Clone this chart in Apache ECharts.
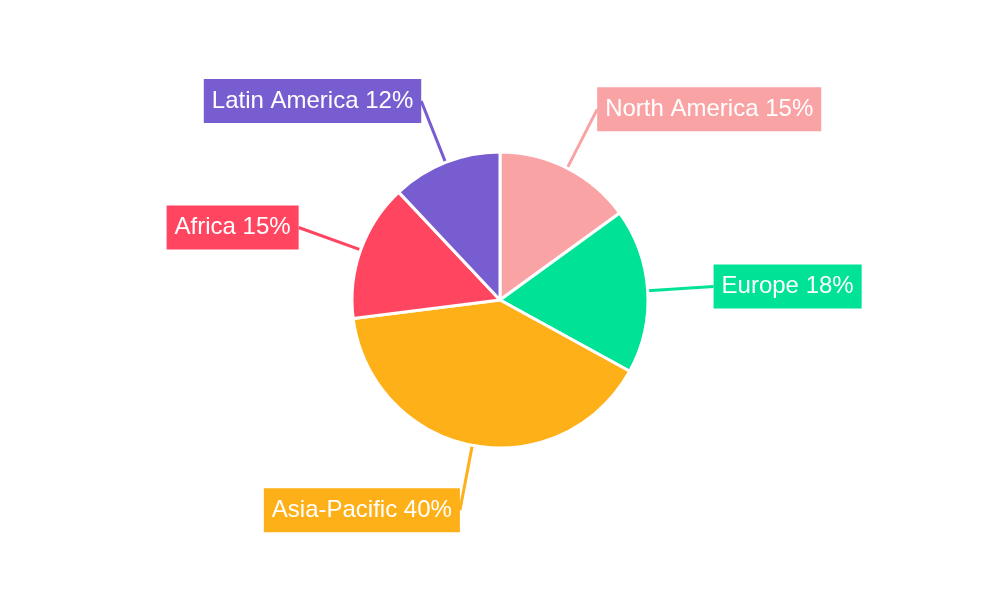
<!DOCTYPE html><html><head><meta charset="utf-8"><script src="https://cdn.jsdelivr.net/npm/echarts@6/dist/echarts.min.js"></script></head><body style="margin:0"><div id="c" style="width:1000px;height:600px"></div><script>
const categories=['North America','Europe','Asia-Pacific','Africa','Latin America'];
const values=[15,18,40,15,12];
const colors=['#F9A3A4','#00E396','#FEB019','#FF4560','#775DD0'];
const chart=echarts.init(document.getElementById('c'));
chart.setOption({series:[{type:'pie',center:['50%','50%'],radius:148,startAngle:90,clockwise:true,
itemStyle:{borderColor:'#fff',borderWidth:3},
label:{formatter:'{b} {d}%',color:'#fff',fontSize:24,fontFamily:'Liberation Sans, Arial',padding:[10,8,10,8],distanceToLabelLine:0},
labelLine:{length:66,length2:0,lineStyle:{width:3}},
data:categories.map((n,i)=>({name:n,value:values[i],itemStyle:{color:colors[i]},label:{backgroundColor:colors[i]}}))}]});
</script></body></html>
